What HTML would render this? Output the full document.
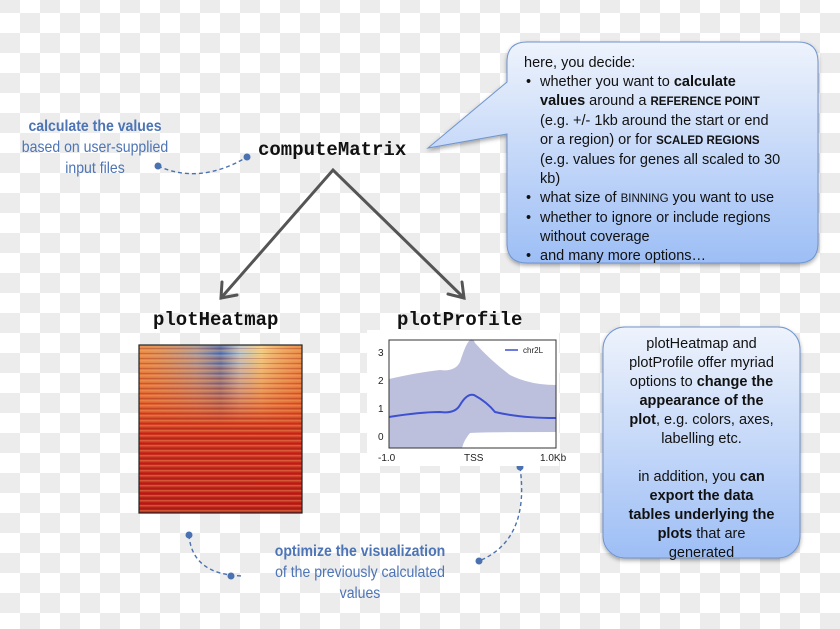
<!DOCTYPE html>
<html><head><meta charset="utf-8"><style>
html,body{margin:0;padding:0}
body{width:840px;height:629px;overflow:hidden;position:relative;font-family:"Liberation Sans",sans-serif;
background-color:#fff;
background-image:conic-gradient(#fff 0 25%,#ececec 0 50%,#fff 0 75%,#ececec 0);
background-size:40px 40px;background-position:0 -7px;}
.mono{position:absolute;font-family:"Liberation Mono",monospace;font-weight:bold;font-size:19px;color:#111}
.hand{position:absolute;color:#4d74b5;font-family:"Liberation Sans",sans-serif;text-align:center;font-size:16px;line-height:21px;transform:scaleX(0.88);transform-origin:center top}
.box{position:absolute;color:#111;font-size:14.5px;line-height:19px}
.box ul{margin:0;padding:0;list-style:none}
.box li{position:relative;padding-left:16px;white-space:nowrap}
.box li:before{content:"•";position:absolute;left:2px}
.sc{font-size:11.5px}
</style></head><body>
<svg width="840" height="629" style="position:absolute;left:0;top:0">
<defs>
<linearGradient id="bg1" x1="0" y1="0" x2="0" y2="1"><stop offset="0" stop-color="#eef3fc"/><stop offset="1" stop-color="#9dbef5"/></linearGradient>
<linearGradient id="hm" x1="0" y1="0" x2="0" y2="1"><stop offset="0" stop-color="#e8843e"/><stop offset="0.35" stop-color="#e05a2a"/><stop offset="0.55" stop-color="#cc2e1e"/><stop offset="1" stop-color="#bb1e18"/></linearGradient>
<linearGradient id="topband" x1="0" y1="0" x2="1" y2="0"><stop offset="0" stop-color="#f0a060" stop-opacity="0.3"/><stop offset="0.35" stop-color="#8aa8d0" stop-opacity="0.7"/><stop offset="0.5" stop-color="#4f78c0"/><stop offset="0.62" stop-color="#b8d0e0"/><stop offset="0.75" stop-color="#f4d890"/><stop offset="1" stop-color="#f0a060" stop-opacity="0.4"/></linearGradient>
<linearGradient id="fade" x1="0" y1="0" x2="0" y2="1"><stop offset="0" stop-color="#fff" stop-opacity="1"/><stop offset="1" stop-color="#fff" stop-opacity="0"/></linearGradient>
<mask id="fm"><rect x="139" y="345" width="163" height="80" fill="url(#fade)"/></mask>
<pattern id="streak" width="163" height="5" patternUnits="userSpaceOnUse"><rect width="163" height="1.5" fill="#f4b868" opacity="0.35"/><rect y="3" width="163" height="1" fill="#7a0c0c" opacity="0.25"/></pattern>
<filter id="sh"><feDropShadow dx="0" dy="2" stdDeviation="2" flood-opacity="0.35"/></filter>
</defs>
<path d="M527,42 H798 Q818,42 818,62 V243 Q818,263 798,263 H527 Q507,263 507,243 V134 L428,148 L507,82 V62 Q507,42 527,42 Z" fill="url(#bg1)" stroke="#6f95cf" stroke-width="1" filter="url(#sh)"/>
<rect x="603" y="327" width="197" height="231" rx="22" fill="url(#bg1)" stroke="#6f95cf" filter="url(#sh)"/>
<g stroke="#555" stroke-width="3" fill="none" stroke-linecap="round">
<path d="M221,298 L333,170 L464,298"/>
<path d="M222,282 L221,298 L237,295"/>
<path d="M448,294 L464,298 L462,282"/>
</g>
<g stroke="#4a72b0" stroke-width="1.4" fill="none" stroke-dasharray="4,3">
<path d="M158,166 Q200,185 247,157"/>
<path d="M189,535 Q192,575 243,576"/>
<path d="M520,467 Q530,540 479,561"/>
</g>
<g fill="#4a72b0"><circle cx="158" cy="166" r="3.5"/><circle cx="247" cy="157" r="3.5"/><circle cx="189" cy="535" r="3.5"/><circle cx="231" cy="576" r="3.5"/><circle cx="520" cy="467" r="3.5"/><circle cx="479" cy="561" r="3.5"/></g>
<rect x="139" y="345" width="163" height="168" fill="url(#hm)"/>
<rect x="139" y="345" width="163" height="80" fill="url(#topband)" mask="url(#fm)"/>
<rect x="139" y="345" width="163" height="168" fill="url(#streak)"/>
<rect x="139" y="345" width="163" height="168" fill="none" stroke="#222" stroke-width="1.2"/>
<rect x="367" y="330" width="192" height="136" fill="#fff"/>
<path d="M389,379 Q420,372 440,370 Q455,372 460,362 Q470,330 475,343 Q490,360 510,375 Q530,385 556,385 V432 Q480,432 470,433 Q464,440 462,448 L389,448 Z" fill="#bcc0dd"/>
<path d="M389,417 Q420,412 440,412 Q455,414 460,405 Q467,393 474,395 Q487,402 495,412 Q520,418 556,418" stroke="#3c50d0" stroke-width="2" fill="none"/>
<rect x="389" y="340" width="167" height="108" fill="none" stroke="#333" stroke-width="1"/>
<line x1="505" y1="350" x2="518" y2="350" stroke="#3c50d0" stroke-width="1.5"/>
<g font-family="Liberation Sans" font-size="10" fill="#222">
<text x="523" y="353" font-size="8">chr2L</text>
<text x="378" y="356">3</text><text x="378" y="384">2</text><text x="378" y="412">1</text><text x="378" y="440">0</text>
<text x="378" y="461">-1.0</text><text x="464" y="461">TSS</text><text x="540" y="461">1.0Kb</text>
</g>
</svg>
<div class="mono" style="left:258px;top:139px">computeMatrix</div>
<div class="mono" style="left:153px;top:309px">plotHeatmap</div>
<div class="mono" style="left:397px;top:309px">plotProfile</div>
<div class="hand" style="left:10px;top:116px;width:170px"><b>calculate the values</b><br>based on user-supplied<br>input files</div>
<div class="hand" style="left:255px;top:541px;width:210px"><b>optimize the visualization</b><br>of the previously calculated<br>values</div>
<div class="box" style="left:524px;top:54px;width:290px">here, you decide:
<ul>
<li>whether you want to <b>calculate</b><br><b>values</b> around a <b class="sc">REFERENCE POINT</b><br>(e.g. +/- 1kb around the start or end<br>or a region) or for <b class="sc">SCALED REGIONS</b><br>(e.g. values for genes all scaled to 30<br>kb)</li>
<li>what size of <span class="sc">BINNING</span> you want to use</li>
<li>whether to ignore or include regions<br>without coverage</li>
<li>and many more options…</li>
</ul></div>
<div class="box" style="left:605px;top:335px;width:193px;text-align:center">plotHeatmap and<br>plotProfile offer myriad<br>options to <b>change the<br>appearance of the<br>plot</b>, e.g. colors, axes,<br>labelling etc.<br><br>in addition, you <b>can<br>export the data<br>tables underlying the<br>plots</b> that are<br>generated</div>
</body></html>
